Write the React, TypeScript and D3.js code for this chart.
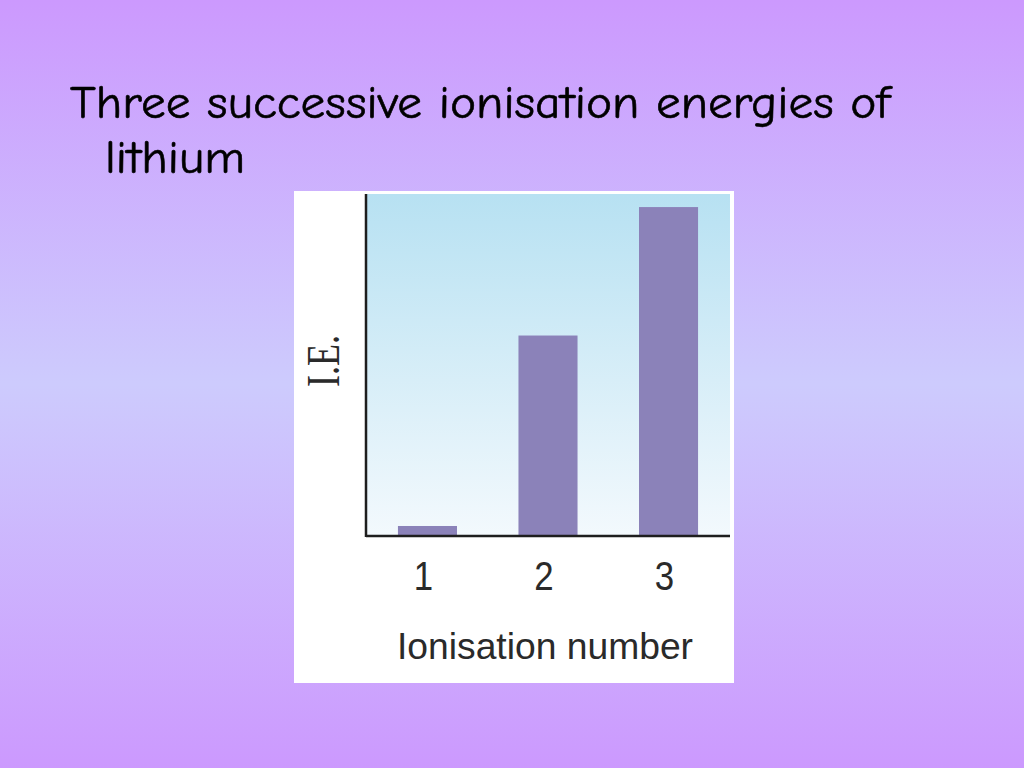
import React from "react";
import * as d3 from "d3";

const categories: string[] = ["1", "2", "3"];
const ieValues: number[] = [360, 7210, 11830];
const yMax = 12300;
const titleLines: string[] = ["Three successive ionisation energies of", "lithium"];
const xAxisTitle = "Ionisation number";
const yAxisTitle = "I.E.";

export default function App() {
  const W = 1024;
  const H = 768;
  const plot = { left: 366, right: 730, top: 194, bottom: 536 };

  const x = d3
    .scaleBand<string>()
    .domain(categories)
    .range([plot.left, plot.right])
    .paddingInner(0.51)
    .paddingOuter(0.265);
  const y = d3.scaleLinear().domain([0, yMax]).range([plot.bottom, plot.top]);

  const yLabelCenter = (plot.top + plot.bottom) / 2 - 4;

  return (
    <svg
      width={W}
      height={H}
      style={{ position: "absolute", left: 0, top: 0, display: "block" }}
    >
      <defs>
        <linearGradient id="bg" x1="0" y1="0" x2="0" y2="1">
          <stop offset="0" stopColor="#cc99fe" />
          <stop offset="0.5" stopColor="#cdcbfd" />
          <stop offset="1" stopColor="#cc99fe" />
        </linearGradient>
        <linearGradient id="plotbg" x1="0" y1="0" x2="0" y2="1">
          <stop offset="0" stopColor="#b7e1f2" />
          <stop offset="1" stopColor="#f3f9fd" />
        </linearGradient>
      </defs>
      <rect x={0} y={0} width={W} height={H} fill="url(#bg)" />

      {/* title */}
      <g
        fontFamily="'Comic Sans MS', 'Comic Neue', Lato, 'Open Sans', sans-serif"
        fontSize={47}
        fill="#000"
        stroke="#000"
        strokeWidth={0.6}
      >
        <text x={70} y={118} textLength={820} lengthAdjust="spacingAndGlyphs">
          {titleLines[0]}
        </text>
        <text x={105} y={173} textLength={140} lengthAdjust="spacingAndGlyphs">
          {titleLines[1]}
        </text>
      </g>

      {/* white panel */}
      <rect x={294} y={191} width={440} height={492} fill="#ffffff" />
      <rect
        x={plot.left}
        y={plot.top}
        width={plot.right - plot.left}
        height={plot.bottom - plot.top}
        fill="url(#plotbg)"
      />

      {/* bars */}
      {categories.map((c, i) => (
        <rect
          key={c}
          x={x(c)}
          y={y(ieValues[i])}
          width={x.bandwidth()}
          height={y(0) - y(ieValues[i])}
          fill="#8b82b9"
        />
      ))}

      {/* axes */}
      <line
        x1={plot.left}
        y1={plot.top}
        x2={plot.left}
        y2={plot.bottom + 1}
        stroke="#1e1e1e"
        strokeWidth={2.5}
      />
      <line
        x1={plot.left}
        y1={plot.bottom}
        x2={plot.right}
        y2={plot.bottom}
        stroke="#1e1e1e"
        strokeWidth={2.5}
      />

      {/* tick labels */}
      <g
        fontFamily="'Liberation Sans Narrow', 'Liberation Sans', Arial, sans-serif"
        fontSize={41}
        fill="#2a2a2a"
        textAnchor="middle"
      >
        {categories.map((c) => (
          <text
            key={c}
            transform={`translate(${(x(c) as number) + x.bandwidth() / 2 - 4}, 590) scale(0.85, 1)`}
          >
            {c}
          </text>
        ))}
      </g>

      {/* x axis title */}
      <text
        x={397}
        y={659}
        fontFamily="'Liberation Sans', Arial, sans-serif"
        fontSize={37}
        fill="#2a2a2a"
        textLength={296}
        lengthAdjust="spacingAndGlyphs"
      >
        {xAxisTitle}
      </text>

      {/* y axis title */}
      <text
        transform={`translate(339, ${yLabelCenter}) rotate(-90)`}
        textAnchor="middle"
        fontFamily="'Liberation Serif', 'Times New Roman', serif"
        fontSize={46}
        fill="#2a2a2a"
        textLength={52}
        lengthAdjust="spacingAndGlyphs"
      >
        {yAxisTitle}
      </text>
    </svg>
  );
}
